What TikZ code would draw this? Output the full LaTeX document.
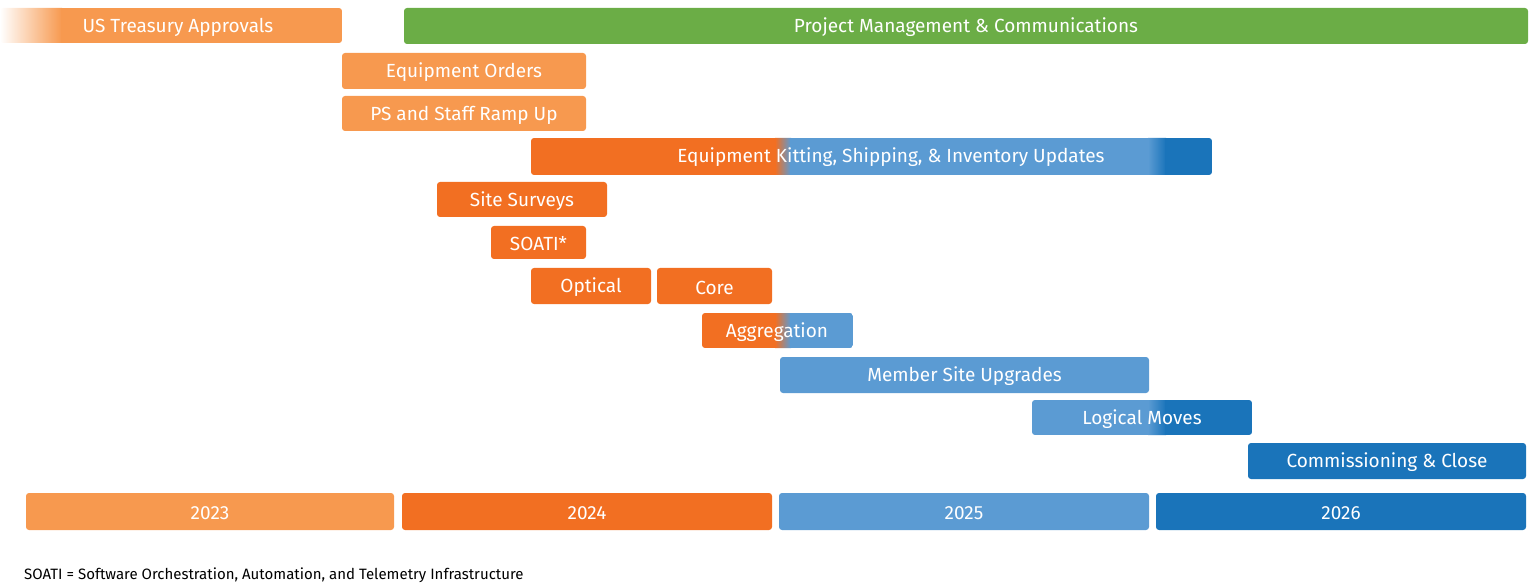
\documentclass[tikz,border=0pt]{standalone}
\usepackage{fontspec}
\setmainfont{Fira Sans}
\begin{document}
\definecolor{lor}{HTML}{F7994F}
\definecolor{orn}{HTML}{F26F22}
\definecolor{lblue}{HTML}{5B9BD3}
\definecolor{dbl}{HTML}{1A74BA}
\definecolor{grn}{HTML}{6BAD46}
\begin{tikzpicture}[x=1pt,y=-1pt,
  lab/.style={text=white,font=\fontsize{19}{19}\selectfont,inner sep=0pt},
  rc/.style={rounded corners=3pt}]
\useasboundingbox (0,0) rectangle (1536,585);
\newcommand\gbar[7]{\fill[#6,rc] (#2,#3) rectangle (#4,#5);
  \node[lab] (#1) at ({(#2+#4)/2},{(#3+#5)/2+1.5}) {#7};}
\begin{scope}
\clip[rc] (0,8) rectangle (342,43);
\shade[left color=white,right color=lor] (0,8) rectangle (62,43);
\fill[lor] (61,8) rectangle (342,43);
\end{scope}
\node[lab] (ust) at (178,27.5) {US Treasury Approvals};
\gbar{pm}{404}{8}{1528}{44}{grn}{Project Management \& Communications}
\gbar{eo}{342}{53}{586}{89}{lor}{Equipment Orders}
\gbar{ps}{342}{96}{586}{131}{lor}{PS and Staff Ramp Up}
\begin{scope}
\clip[rc] (531,138) rectangle (1212,175);
\fill[orn] (531,138) rectangle (776,175);
\shade[left color=orn,right color=lblue] (775,138) rectangle (791,175);
\fill[lblue] (790,138) rectangle (1149,175);
\shade[left color=lblue,right color=dbl] (1148,138) rectangle (1166,175);
\fill[dbl] (1165,138) rectangle (1212,175);
\end{scope}
\node[lab] (kit) at (891,157.5) {Equipment Kitting, Shipping, \& Inventory Updates};
\gbar{ss}{437}{182}{607}{217}{orn}{Site Surveys}
\gbar{so}{491}{226}{586}{259}{orn}{SOATI*}
\gbar{op}{531}{268}{651}{304}{orn}{Optical}
\gbar{co}{657}{268}{772}{304}{orn}{Core}
\begin{scope}
\clip[rc] (702,313) rectangle (853,348);
\fill[orn] (702,313) rectangle (776,348);
\shade[left color=orn,right color=lblue] (775,313) rectangle (791,348);
\fill[lblue] (790,313) rectangle (853,348);
\end{scope}
\node[lab] (ag) at (777,332.5) {Aggregation};
\gbar{ms}{780}{357}{1149}{393}{lblue}{Member Site Upgrades}
\begin{scope}
\clip[rc] (1032,400) rectangle (1252,435);
\fill[lblue] (1032,400) rectangle (1149,435);
\shade[left color=lblue,right color=dbl] (1148,400) rectangle (1166,435);
\fill[dbl] (1165,400) rectangle (1252,435);
\end{scope}
\node[lab] (lm) at (1142,419.5) {Logical Moves};
\gbar{cc}{1248}{443}{1526}{479}{dbl}{Commissioning \& Close}
\gbar{y3}{26}{493}{394}{530}{lor}{2023}
\gbar{y4}{402}{493}{772}{530}{orn}{2024}
\gbar{y5}{779}{493}{1149}{530}{lblue}{2025}
\gbar{y6}{1156}{493}{1526}{530}{dbl}{2026}
\node[anchor=west,font=\fontsize{15}{15}\selectfont,inner sep=0pt] (fn) at (24,575)
 {SOATI = Software Orchestration, Automation, and Telemetry Infrastructure};
\end{tikzpicture}
\end{document}
